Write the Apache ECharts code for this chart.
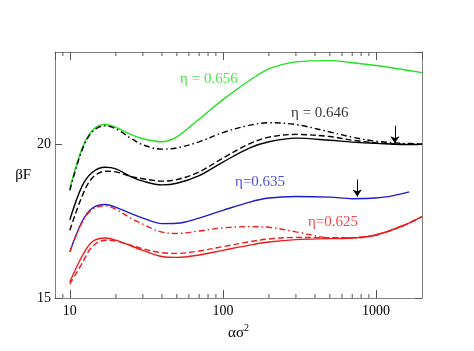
<!DOCTYPE html>
<html>
<head>
<meta charset="utf-8">
<script src="https://cdn.jsdelivr.net/npm/echarts@6/dist/echarts.min.js"></script>
<style>
  html, body { margin: 0; padding: 0; background: #fff; }
  #chart { width: 474px; height: 351px; }
</style>
</head>
<body>
<div id="chart"></div>
<script>
// x = alpha sigma^2 (log axis), y = beta F
const xs = [10, 12, 14, 17, 20, 25, 30, 40, 50, 70, 100, 150, 200, 300, 500, 700, 1000, 1500, 2000];
const xsBlue = [10, 12, 14, 17, 20, 25, 30, 40, 50, 70, 100, 150, 200, 300, 500, 700, 1000, 1300, 1650];

// eta = 0.656
const green656 = [18.57, 19.85, 20.45, 20.64, 20.55, 20.32, 20.18, 20.08, 20.24, 20.82, 21.45, 22.08, 22.45, 22.68, 22.72, 22.65, 22.56, 22.43, 22.33];
// eta = 0.646 (black)
const blackDashDot = [18.5, 19.8, 20.4, 20.6, 20.5, 20.2, 19.98, 19.84, 19.88, 20.08, 20.38, 20.62, 20.7, 20.64, 20.4, 20.23, 20.1, 20.03, 20.02];
const blackDashed = [17.2, 18.3, 18.9, 19.12, 19.1, 18.95, 18.88, 18.8, 18.85, 19.1, 19.55, 20.02, 20.23, 20.32, 20.25, 20.13, 20.05, 20.0, 20.0];
const blackSolid = [17.54, 18.63, 19.08, 19.25, 19.2, 18.95, 18.8, 18.68, 18.73, 18.98, 19.42, 19.88, 20.08, 20.2, 20.13, 20.07, 20.03, 19.99, 20.0];
// eta = 0.635 (blue)
const blue635 = [16.5, 17.48, 17.92, 18.04, 17.95, 17.75, 17.6, 17.42, 17.43, 17.6, 17.85, 18.12, 18.25, 18.3, 18.28, 18.23, 18.25, 18.33, 18.45];
// eta = 0.625 (red)
const redDashDot = [16.5, 17.45, 17.88, 18.0, 17.88, 17.6, 17.4, 17.14, 17.1, 17.18, 17.28, 17.32, 17.3, 17.15, 16.96, 16.95, 17.05, 17.35, 17.65];
const redDashed = [15.45, 16.12, 16.67, 16.88, 16.85, 16.72, 16.6, 16.47, 16.45, 16.53, 16.67, 16.83, 16.92, 16.97, 16.96, 16.96, 17.05, 17.35, 17.65];
const redSolid = [15.52, 16.35, 16.83, 16.95, 16.88, 16.7, 16.55, 16.35, 16.32, 16.4, 16.55, 16.72, 16.82, 16.9, 16.93, 16.95, 17.05, 17.35, 17.65];

// annotations
const labelTexts = ['η = 0.656', 'η = 0.646', 'η=0.635', 'η=0.625'];
const labelX = [81, 430, 175, 524];
const labelY = [22.11, 21.0, 18.78, 17.47];
const arrowX = [1330, 755];
const arrowFrom = [20.6, 18.85];
const arrowTo = [20.03, 18.3];

// axis ticks
const yMin = 15, yMax = 23;
const minorX = [9, 20, 30, 40, 50, 60, 70, 80, 90, 200, 300, 400, 500, 600, 700, 800, 900];
const minorY = [17.5, 22.5];

const GREEN = '#22e022', BLUE = '#1c1ccc', RED = '#ee1c1c', BLACK = '#000';
const labelColors = [GREEN, BLACK, BLUE, RED];
const FONT = 'Liberation Serif';
const AXIS = '#808080';

const zip = (x, y) => x.map((v, i) => [v, y[i]]);

function curve(data, color, type) {
  return {
    type: 'line', data: data, smooth: 0.35, symbol: 'none',
    lineStyle: { color: color, width: 1.4, type: type }
  };
}

const xBase = {
  type: 'log', min: 8, max: 2000,
  axisLine: { lineStyle: { color: AXIS, width: 1 } },
  axisTick: { inside: true, length: 8, lineStyle: { color: '#555' } },
  splitLine: { show: false }
};
const yBase = {
  type: 'value', min: yMin, max: yMax, interval: 5,
  axisLine: { show: true, lineStyle: { color: AXIS, width: 1 } },
  axisTick: { show: true, inside: true, length: 7, lineStyle: { color: '#555' } },
  splitLine: { show: false }
};

// minor ticks on all four sides, placed through the axes
function tickItem(isX) {
  return function (params, api) {
    const v = api.value(0);
    const len = 4;
    const style = { stroke: '#555', lineWidth: 1 };
    if (isX) {
      const b = api.coord([v, yMin]);
      const t = api.coord([v, yMax]);
      return { type: 'group', children: [
        { type: 'line', shape: { x1: b[0], y1: b[1], x2: b[0], y2: b[1] - len }, style: style },
        { type: 'line', shape: { x1: t[0], y1: t[1], x2: t[0], y2: t[1] + len }, style: style }
      ] };
    }
    const l = api.coord([8, v]);
    const r = api.coord([2000, v]);
    return { type: 'group', children: [
      { type: 'line', shape: { x1: l[0], y1: l[1], x2: l[0] + len, y2: l[1] }, style: style },
      { type: 'line', shape: { x1: r[0], y1: r[1], x2: r[0] - len, y2: r[1] }, style: style }
    ] };
  };
}

const chart = echarts.init(document.getElementById('chart'));
chart.setOption({
  animation: false,
  backgroundColor: '#fff',
  grid: { left: 55, top: 52, right: 52, bottom: 53 },
  xAxis: [
    Object.assign({}, xBase, {
      position: 'bottom',
      name: '{a|ασ}{s|2}',
      nameLocation: 'middle',
      nameGap: 20,
      nameTextStyle: {
        color: '#000', fontFamily: FONT,
        rich: {
          a: { fontSize: 15, fontFamily: FONT, color: '#000' },
          s: { fontSize: 10, fontFamily: FONT, color: '#000', padding: [0, 0, 10, 0] }
        }
      },
      axisLabel: {
        color: '#000', fontFamily: FONT, fontSize: 14, margin: 6,
        showMinLabel: false, showMaxLabel: false,
        formatter: v => String(Math.round(v))
      }
    }),
    Object.assign({}, xBase, { position: 'top', axisLabel: { show: false } })
  ],
  yAxis: [
    Object.assign({}, yBase, {
      position: 'left',
      name: 'βF',
      nameLocation: 'middle',
      nameRotate: 0,
      nameGap: 22,
      nameTextStyle: { color: '#000', fontFamily: FONT, fontSize: 15, padding: [0, 0, 32, 0] },
      axisLabel: { color: '#000', fontFamily: FONT, fontSize: 14, margin: 4, showMaxLabel: false }
    }),
    Object.assign({}, yBase, { position: 'right', axisLabel: { show: false } })
  ],
  series: [
    curve(zip(xs, green656), GREEN, 'solid'),
    curve(zip(xs, blackDashDot), BLACK, [6, 3, 1.5, 3]),
    curve(zip(xs, blackDashed), BLACK, [6, 3]),
    Object.assign(curve(zip(xs, blackSolid), BLACK, 'solid'), {
      markLine: {
        silent: true, symbol: ['none', 'arrow'], symbolSize: 7,
        label: { show: false },
        lineStyle: { color: BLACK, width: 1, type: 'solid' },
        data: arrowX.map((x, i) => [{ coord: [x, arrowFrom[i]] }, { coord: [x, arrowTo[i]] }])
      }
    }),
    curve(zip(xsBlue, blue635), BLUE, 'solid'),
    curve(zip(xs, redDashDot), RED, [6, 3, 1.5, 3]),
    curve(zip(xs, redDashed), RED, [6, 3]),
    curve(zip(xs, redSolid), RED, 'solid'),
    {
      type: 'scatter', symbolSize: 0, silent: true,
      data: labelTexts.map((t, i) => ({
        name: t, value: [labelX[i], labelY[i]],
        label: { color: labelColors[i] }
      })),
      label: {
        show: true, position: 'inside', fontFamily: FONT, fontSize: 15,
        formatter: p => p.name
      },
      itemStyle: { color: 'transparent' }
    },
    {
      type: 'custom', silent: true, clip: false,
      data: minorX.map(v => [v, yMin]),
      renderItem: tickItem(true)
    },
    {
      type: 'custom', silent: true, clip: false,
      data: minorY.map(v => [8, v]),
      renderItem: tickItem(false)
    }
  ]
});
</script>
</body>
</html>
